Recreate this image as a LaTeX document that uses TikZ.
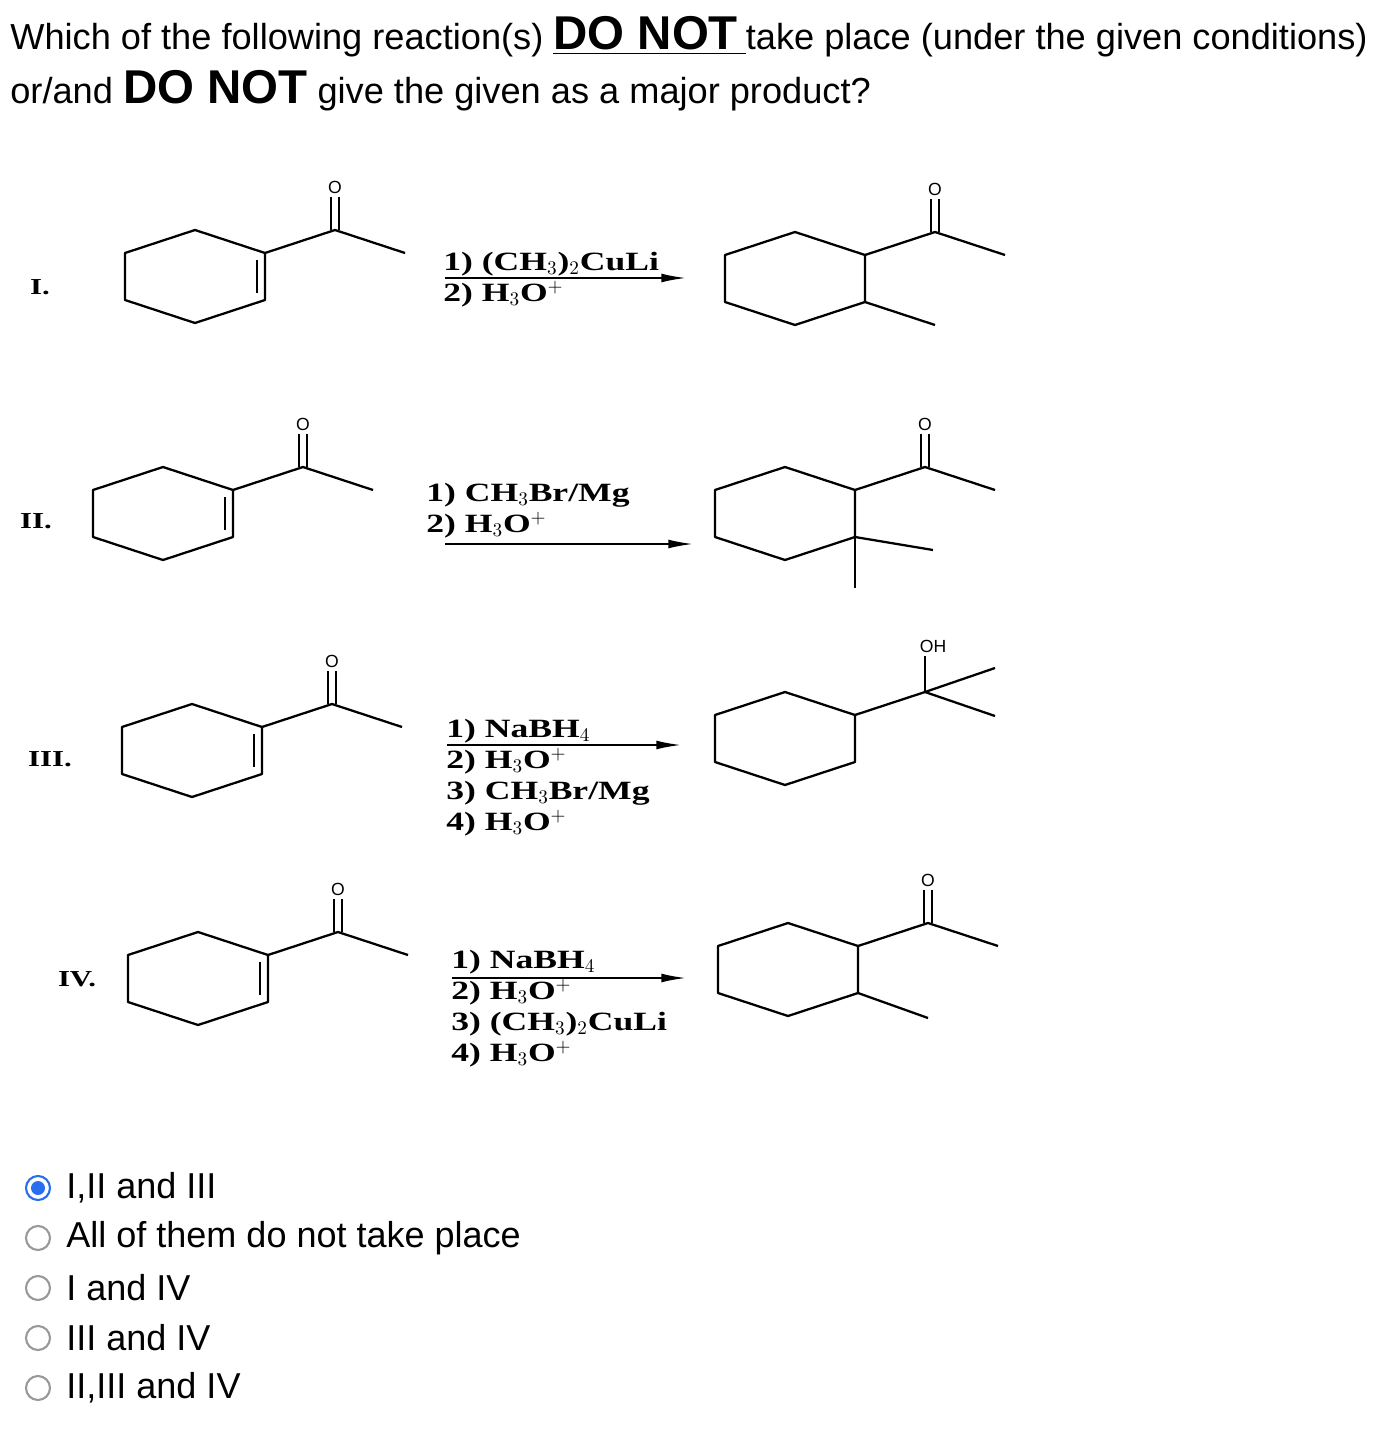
\documentclass[tikz,border=0pt]{standalone}
\usepackage{fontspec}
\setmainfont{Liberation Sans}
\newfontfamily\tnr[FakeStretch=1.35]{Liberation Serif}
\usetikzlibrary{arrows.meta,calc}
\tikzset{bond/.style={line width=1.3pt,line join=round},
 rxn/.style={line width=1pt,-{Latex[length=14pt,width=5pt]}},
 reag/.style={anchor=west,align=left,font=\tnr\bfseries\fontsize{15}{17.6}\selectfont,inner sep=0pt},
 lab/.style={font=\tnr\bfseries\fontsize{13}{15}\selectfont,inner sep=0pt},
 olab/.style={font=\fontsize{10}{11}\selectfont,inner sep=0pt},
 opt/.style={anchor=west,font=\fontsize{20.5}{23}\selectfont,inner sep=0pt},
 radio/.style={draw=gray!80,line width=1.2pt}}
\definecolor{rb}{RGB}{40,110,240}
\newcommand\ringat[2]{%
 \draw[bond] (#1,#2) -- ++(-70,-23) -- ++(-70,23) -- ++(0,47) -- ++(70,23) -- ++(70,-23) -- cycle;}
\newcommand\ketone[2]{% from ring vertex
 \draw[bond] (#1,#2) -- ++(70,-23) -- ++(70,23);
 \draw[bond] ($(#1,#2)+(66,-23)$) -- ++(0,-33);
 \draw[bond] ($(#1,#2)+(74,-23)$) -- ++(0,-33);
 \node[olab] at ($(#1,#2)+(70,-66)$) {O};}
\begin{document}
\begin{tikzpicture}[x=0.02cm,y=-0.02cm]
\useasboundingbox (0,0) rectangle (1386,1446);
% header
\node[anchor=base west,inner sep=0pt,font=\fontsize{20.6}{23}\selectfont] (h1) at (10,50) {Which of the following reaction(s) {\fontsize{27}{29}\selectfont\bfseries\underline{DO NOT\,}}take place (under the given conditions)};
\node[anchor=base west,inner sep=0pt,font=\fontsize{20.6}{23}\selectfont] (h2) at (10,104) {or/and {\fontsize{27}{29}\selectfont\bfseries DO NOT} give the given as a major product?};
% labels
\node[lab] (l1) at (40,287) {I.};
\node[lab] (l2) at (36,521) {II.};
\node[lab] (l3) at (50,759) {III.};
\node[lab] (l4) at (77,979) {IV.};
% reactants
\foreach \x/\y in {265/253,233/490,262/727,268/955}{
 \ringat{\x}{\y}
 \draw[bond] ($(\x,\y)+(-8,7)$) -- ++(0,33);
 \ketone{\x}{\y}}
% product I
\ringat{865}{255}\ketone{865}{255}
\draw[bond] (865,302) -- ++(70,23);
% product II
\ringat{855}{490}\ketone{855}{490}
\draw[bond] (855,537) -- ++(78,13);
\draw[bond] (855,537) -- ++(0,51);
% product III
\ringat{855}{715}
\draw[bond] (855,715) -- ++(70,-23) -- ++(70,-24);
\draw[bond] (925,692) -- ++(70,24);
\draw[bond] (925,692) -- ++(0,-36);
\node[olab] (oh) at (933,646) {OH};
% product IV
\ringat{858}{946}\ketone{858}{946}
\draw[bond] (858,993) -- ++(70,25);
% arrows and reagents
\node[reag] (r1) at (443,280) {1) (CH$_3$)$_2$CuLi\\2) H$_3$O$^+$};
\draw[rxn] (445,278) -- (686,278);
\node[reag] (r2) at (426,511) {1) CH$_3$Br/Mg\\2) H$_3$O$^+$};
\draw[rxn] (445,544) -- (693,544);
\node[reag] (r3) at (446,778) {1) NaBH$_4$\\2) H$_3$O$^+$\\3) CH$_3$Br/Mg\\4) H$_3$O$^+$};
\draw[rxn] (447,745) -- (681,745);
\node[reag] (r4) at (451,1009) {1) NaBH$_4$\\2) H$_3$O$^+$\\3) (CH$_3$)$_2$CuLi\\4) H$_3$O$^+$};
\draw[rxn] (452,978) -- (686,978);
% options
\draw[radio,draw=rb] (38,1188) circle (12);
\fill[rb] (38,1188) circle (7);
\foreach \yy in {1238,1288,1338,1388} \draw[radio] (38,\yy) circle (12);
\node[opt] (o1) at (66,1188) {I,II and III};
\node[opt] (o2) at (66,1238) {All of them do not take place};
\node[opt] (o3) at (66,1288) {I and IV};
\node[opt] (o4) at (66,1338) {III and IV};
\node[opt] (o5) at (66,1388) {II,III and IV};
\end{tikzpicture}
\end{document}
